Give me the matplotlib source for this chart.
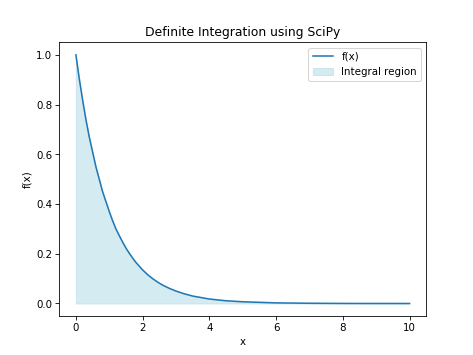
import numpy as np
import matplotlib
matplotlib.use("Agg")
import matplotlib.pyplot as plt

# values
x_vals = [0.0, 0.1, 0.2, 0.3, 0.4, 0.5, 0.6, 0.7, 0.8, 0.9, 1.0, 1.1, 1.2, 1.3, 1.4,
          1.5, 1.6, 1.7, 1.8, 1.9, 2.0, 2.15, 2.3, 2.45, 2.6, 2.8, 3.0, 3.25, 3.5,
          4.0, 4.5, 5.0, 6.0, 7.0, 8.0, 9.0, 10.0]
y_vals = [1.0, 0.905, 0.82, 0.74, 0.67, 0.61, 0.55, 0.50, 0.45, 0.41, 0.37, 0.333,
          0.30, 0.273, 0.247, 0.223, 0.202, 0.183, 0.165, 0.150, 0.135, 0.116,
          0.10, 0.086, 0.074, 0.061, 0.05, 0.039, 0.03, 0.018, 0.011, 0.007,
          0.0025, 0.001, 0.0003, 0.0001, 0.00005]

x = np.array(x_vals)
y = np.array(y_vals)

fig, ax = plt.subplots(figsize=(6.4, 4.8), dpi=74)
ax.plot(x, y, label="f(x)")
ax.fill_between(x, y, color="lightblue", alpha=0.5, label="Integral region")
ax.set_title("Definite Integration using SciPy")
ax.set_xlabel("x")
ax.set_ylabel("f(x)")
ax.legend()

fig.savefig("out.png", dpi=74)
